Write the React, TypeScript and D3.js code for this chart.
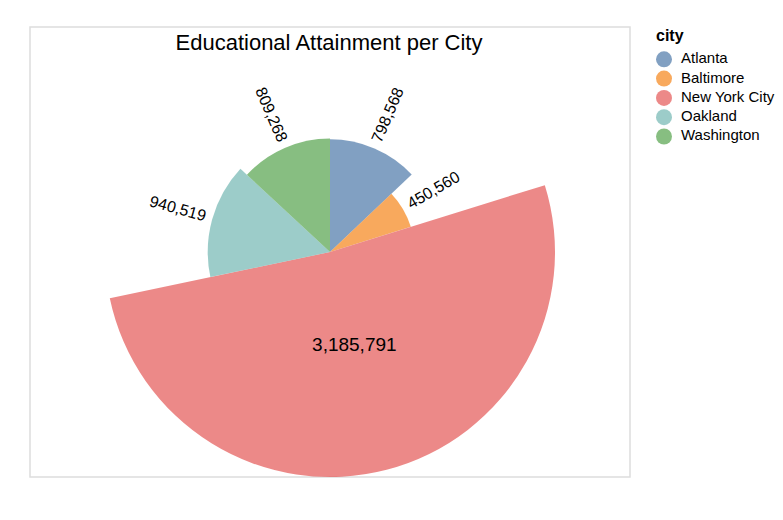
import * as d3 from 'd3';
import { useEffect, useRef } from 'react';

const cities = ['Atlanta', 'Baltimore', 'New York City', 'Oakland', 'Washington'];
const values = [798568, 450560, 3185791, 940519, 809268];
const colors = ['#4c78a8', '#f58518', '#e45756', '#72b7b2', '#54a24b'];

const App = () => {
  const ref = useRef<SVGSVGElement>(null);

  useEffect(() => {
    const svg = d3.select(ref.current);
    svg.selectAll('*').remove();

    const frame = { left: 30, top: 27, width: 600, height: 450 };
    const cx = frame.left + frame.width / 2;
    const cy = frame.top + frame.height / 2;
    const font = 'Liberation Sans, Arial, Helvetica, sans-serif';

    const data = cities.map((city, i) => ({ city, value: values[i] }));

    const color = d3.scaleOrdinal<string>().domain(cities).range(colors);
    const radius = d3.scaleSqrt()
      .domain([0, d3.max(values) || 0])
      .range([0, Math.min(frame.width, frame.height) / 2]);

    const pie = d3.pie<{ city: string; value: number }>().value(d => d.value).sort(null);
    const arcs = pie(data);

    svg.append('rect')
      .attr('x', frame.left)
      .attr('y', frame.top)
      .attr('width', frame.width)
      .attr('height', frame.height)
      .attr('fill', '#fff')
      .attr('stroke', '#ddd')
      .attr('stroke-width', 1.5);

    const g = svg.append('g').attr('transform', `translate(${cx},${cy})`);

    const arc = d3.arc<d3.PieArcDatum<{ city: string; value: number }>>()
      .innerRadius(0)
      .outerRadius(d => radius(d.data.value));

    g.selectAll('path')
      .data(arcs)
      .enter()
      .append('path')
      .attr('d', arc)
      .attr('fill', d => color(d.data.city))
      .attr('fill-opacity', 0.7);

    const fmt = d3.format(',');

    // outside labels follow the radius, the big slice keeps its label inside
    g.selectAll('text.label')
      .data(arcs)
      .enter()
      .append('text')
      .attr('class', 'label')
      .attr('transform', d => {
        const mid = (d.startAngle + d.endAngle) / 2;
        const big = d.endAngle - d.startAngle > Math.PI;
        const r = radius(d.data.value);
        const rr = big ? r * 0.43 : r + 36;
        const x = rr * Math.sin(mid);
        const y = -rr * Math.cos(mid);
        let rot = 0;
        if (!big) {
          const deg = (mid * 180) / Math.PI;
          rot = deg - 90 + (deg > 180 ? 180 : 0);
        }
        return `translate(${x},${y}) rotate(${rot})`;
      })
      .attr('text-anchor', 'middle')
      .attr('dominant-baseline', 'middle')
      .attr('font-family', font)
      .attr('font-size', d => (d.endAngle - d.startAngle > Math.PI ? 19 : 16))
      .attr('fill', '#000')
      .text(d => fmt(d.data.value));

    svg.append('text')
      .attr('x', cx - 1)
      .attr('y', 49.5)
      .attr('text-anchor', 'middle')
      .attr('font-family', font)
      .attr('font-size', 22)
      .attr('fill', '#000')
      .text('Educational Attainment per City');

    // legend
    const legend = svg.append('g').attr('transform', 'translate(656,0)');
    legend.append('text')
      .attr('x', 0)
      .attr('y', 41)
      .attr('font-family', font)
      .attr('font-size', 16)
      .attr('font-weight', 'bold')
      .attr('fill', '#000')
      .text('city');

    const items = legend.selectAll('g.item')
      .data(cities)
      .enter()
      .append('g')
      .attr('class', 'item')
      .attr('transform', (_, i) => `translate(0,${59.3 + i * 19.3})`);

    items.append('circle')
      .attr('cx', 8)
      .attr('cy', 0)
      .attr('r', 8)
      .attr('fill', d => color(d))
      .attr('fill-opacity', 0.7);

    items.append('text')
      .attr('x', 25)
      .attr('y', 0)
      .attr('dominant-baseline', 'middle')
      .attr('font-family', font)
      .attr('font-size', 15)
      .attr('fill', '#000')
      .text(d => d);
  }, []);

  return (
    <svg
      ref={ref}
      width={783}
      height={520}
      style={{ position: 'absolute', left: 0, top: 0, background: '#fff' }}
    />
  );
};

export default App;
